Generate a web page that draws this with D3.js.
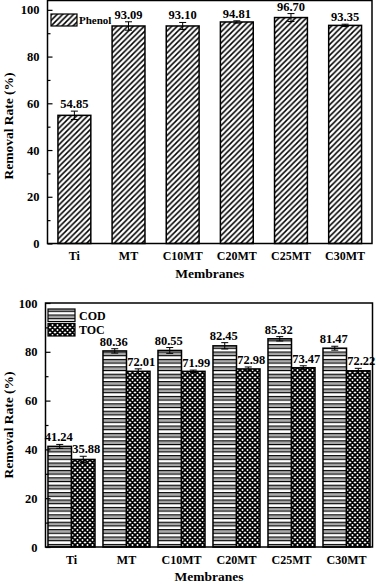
<!DOCTYPE html>
<html>
<head>
<meta charset="utf-8">
<script src="https://cdn.jsdelivr.net/npm/d3@7"></script>
<style>
    body { margin: 0; background: #fff; }
    svg text { font-family: 'Liberation Serif', 'Times New Roman', serif; font-weight: bold; fill: #000; }
</style>
</head>
<body>
<svg id="chart" width="376" height="584"></svg>
<script>
var membranes = ['Ti', 'MT', 'C10MT', 'C20MT', 'C25MT', 'C30MT'];

// top panel
var phenol = [54.85, 93.09, 93.10, 94.81, 96.70, 93.35];
var phenol_err = [1.8, 1.8, 1.5, 0.5, 1.7, 0.5];

// bottom panel
var cod = [41.24, 80.36, 80.55, 82.45, 85.32, 81.47];
var cod_err = [0.8, 0.9, 1.2, 1.3, 0.9, 0.8];
var toc = [35.88, 72.01, 71.99, 72.98, 73.47, 72.22];
var toc_err = [1.3, 1.0, 0.5, 0.8, 0.8, 1.0];

var yticks = [0, 20, 40, 60, 80, 100];
var yminor = [10, 30, 50, 70, 90];

var svg = d3.select('#chart');
var defs = svg.append('defs');

// hatch patterns
var p = defs.append('pattern')
    .attr('id', 'hatch')
    .attr('patternUnits', 'userSpaceOnUse')
    .attr('width', 5.5).attr('height', 5.5);
p.append('rect').attr('width', 5.5).attr('height', 5.5).attr('fill', '#fff');
p.append('path')
    .attr('d', 'M-1,1 l2,-2 M0,5.5 l5.5,-5.5 M4.5,6.5 l2,-2')
    .attr('stroke', '#000').attr('stroke-width', 1.5);

p = defs.append('pattern')
    .attr('id', 'stripes')
    .attr('patternUnits', 'userSpaceOnUse')
    .attr('width', 8).attr('height', 7.4);
p.append('rect').attr('width', 8).attr('height', 7.4).attr('fill', '#fff');
p.append('rect').attr('y', 4.2).attr('width', 8).attr('height', 3.2).attr('fill', '#aaa');
p.append('rect').attr('y', 0).attr('width', 8).attr('height', 1.1).attr('fill', '#000');
p.append('rect').attr('y', 3.7).attr('width', 8).attr('height', 1.1).attr('fill', '#000');

p = defs.append('pattern')
    .attr('id', 'cross')
    .attr('patternUnits', 'userSpaceOnUse')
    .attr('width', 5).attr('height', 5);
p.append('rect').attr('width', 5).attr('height', 5).attr('fill', '#fff');
p.append('path')
    .attr('d', 'M0,0 L5,5 M5,0 L0,5 M-1,4 L1,6 M4,-1 L6,1 M-1,1 L1,-1 M4,6 L6,4')
    .attr('stroke', '#000').attr('stroke-width', 1.8);

function drawFrame(g, x, y, title_y) {
    var r = x.range(), d = y.range();

    // y axis, ticks inward
    g.append('g')
        .attr('transform', 'translate(' + r[0] + ',0)')
        .call(d3.axisLeft(y).tickValues(yminor).tickSize(-3).tickFormat(''))
        .call(a => a.select('.domain').remove())
        .call(a => a.selectAll('line').attr('stroke-width', 1.2));
    g.append('g')
        .attr('transform', 'translate(' + r[0] + ',0)')
        .call(d3.axisLeft(y).tickValues(yticks).tickSize(-5).tickPadding(8))
        .call(a => a.select('.domain').remove())
        .call(a => a.selectAll('line').attr('stroke-width', 1.2))
        .call(a => a.selectAll('text').attr('font-size', 12.5)
            .style('font-family', "'Liberation Serif', serif").style('font-weight', 'bold'));

    // x axis labels
    g.append('g')
        .attr('transform', 'translate(0,' + d[0] + ')')
        .call(d3.axisBottom(x).tickSize(0).tickPadding(8))
        .call(a => a.select('.domain').remove())
        .call(a => a.selectAll('text').attr('font-size', 12)
            .style('font-family', "'Liberation Serif', serif").style('font-weight', 'bold'));

    g.append('rect')
        .attr('x', r[0]).attr('y', d[1])
        .attr('width', r[1] - r[0]).attr('height', d[0] - d[1])
        .attr('fill', 'none').attr('stroke', '#000').attr('stroke-width', 1.5);

    g.append('text')
        .attr('x', (r[0] + r[1]) / 2).attr('y', d[0] + 34)
        .attr('text-anchor', 'middle').attr('font-size', 13.5)
        .text('Membranes');

    g.append('text')
        .attr('transform', 'translate(13,' + title_y + ') rotate(-90)')
        .attr('text-anchor', 'middle').attr('font-size', 13.5)
        .text('Removal Rate (%)');
}

function drawErr(g, cx, y, v, e) {
    g.append('line')
        .attr('x1', cx).attr('x2', cx)
        .attr('y1', y(v - e)).attr('y2', y(v + e))
        .attr('stroke', '#000').attr('stroke-width', 1);
    [v - e, v + e].forEach(function (w) {
        g.append('line')
            .attr('x1', cx - 3.5).attr('x2', cx + 3.5)
            .attr('y1', y(w)).attr('y2', y(w))
            .attr('stroke', '#000').attr('stroke-width', 1);
    });
}

// ---- top panel ----
var x1 = d3.scaleBand().domain(membranes).range([47.5, 372]).paddingInner(0.393).paddingOuter(0.193);
var y1 = d3.scaleLinear().domain([0, 104]).range([243.5, 0.5]);
var top_g = svg.append('g');

membranes.forEach(function (m, i) {
    top_g.append('rect')
        .attr('x', x1(m)).attr('y', y1(phenol[i]))
        .attr('width', x1.bandwidth()).attr('height', y1(0) - y1(phenol[i]))
        .attr('fill', 'url(#hatch)').attr('stroke', '#000').attr('stroke-width', 1.5);
    drawErr(top_g, x1(m) + x1.bandwidth() / 2, y1, phenol[i], phenol_err[i]);
    top_g.append('text')
        .attr('x', x1(m) + x1.bandwidth() / 2)
        .attr('y', y1(phenol[i] + phenol_err[i]) - 3)
        .attr('text-anchor', 'middle').attr('font-size', 12.5)
        .text(phenol[i].toFixed(2));
});
drawFrame(top_g, x1, y1, 126);

top_g.append('rect')
    .attr('x', 51).attr('y', 14).attr('width', 26).attr('height', 12)
    .attr('fill', 'url(#hatch)').attr('stroke', '#000').attr('stroke-width', 1.2);
top_g.append('text').attr('x', 79).attr('y', 24).attr('font-size', 11).text('Phenol');

// ---- bottom panel ----
var x2 = d3.scaleBand().domain(membranes).range([45.5, 372.5]).paddingInner(0.145).paddingOuter(0.045);
var xs = d3.scaleBand().domain(['COD', 'TOC']).range([0, x2.bandwidth()]);
var y2 = d3.scaleLinear().domain([0, 100]).range([547, 303]);
var bot_g = svg.append('g');

var series = [
    { key: 'COD', vals: cod, errs: cod_err, fill: 'url(#stripes)', dx: -1 },
    { key: 'TOC', vals: toc, errs: toc_err, fill: 'url(#cross)', dx: 3 },
];

membranes.forEach(function (m, i) {
    series.forEach(function (s) {
        var bx = x2(m) + xs(s.key), v = s.vals[i];
        bot_g.append('rect')
            .attr('x', bx).attr('y', y2(v))
            .attr('width', xs.bandwidth()).attr('height', y2(0) - y2(v))
            .attr('fill', s.fill).attr('stroke', '#000').attr('stroke-width', 1.5);
        drawErr(bot_g, bx + xs.bandwidth() / 2, y2, v, s.errs[i]);
    });
});
membranes.forEach(function (m, i) {
    series.forEach(function (s) {
        var bx = x2(m) + xs(s.key), v = s.vals[i];
        bot_g.append('text')
            .attr('x', bx + xs.bandwidth() / 2 + s.dx)
            .attr('y', y2(v + s.errs[i]) - 3)
            .attr('text-anchor', 'middle').attr('font-size', 12.5)
            .text(v.toFixed(2));
    });
});
drawFrame(bot_g, x2, y2, 425);

series.forEach(function (s, i) {
    bot_g.append('rect')
        .attr('x', 48).attr('y', 309 + i * 14.5).attr('width', 27).attr('height', 12.5)
        .attr('fill', s.fill).attr('stroke', '#000').attr('stroke-width', 1.2);
    bot_g.append('text').attr('x', 79).attr('y', 319.5 + i * 14.5).attr('font-size', 12).text(s.key);
});
</script>
</body>
</html>
